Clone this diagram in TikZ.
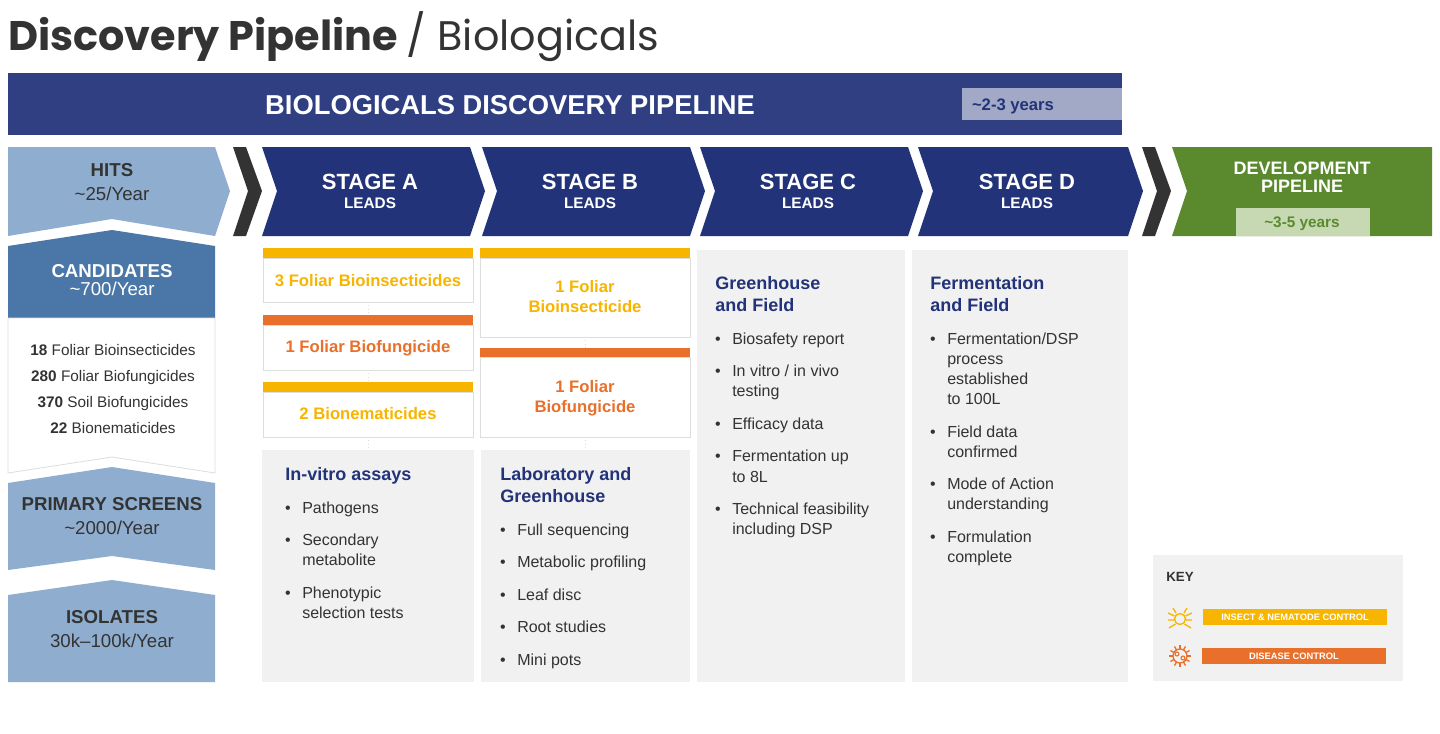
\documentclass[tikz,border=0pt]{standalone}
\usepackage{fontspec}
\setmainfont{Liberation Sans}
\newfontfamily\ttlfont{Poppins}
\begin{document}
\definecolor{navy}{HTML}{22337A}
\definecolor{ban}{HTML}{2F3F82}
\definecolor{lblue}{HTML}{8FAECF}
\definecolor{mblue}{HTML}{4A77A8}
\definecolor{dgray}{HTML}{333333}
\definecolor{grn}{HTML}{5B8A2E}
\definecolor{lgrn}{HTML}{C7D9B3}
\definecolor{yel}{HTML}{F7B500}
\definecolor{org}{HTML}{E8702A}
\definecolor{pan}{HTML}{F1F1F1}
\definecolor{txt}{HTML}{333333}
\definecolor{bdr}{HTML}{DDDDDD}
\begin{tikzpicture}[x=0.75pt,y=-0.75pt,
  fs/.style={font=\fontsize{#1}{#1}\selectfont},
  wt/.style={text=white,font=\fontsize{#1}{#1}\selectfont\bfseries,align=center},
  bt/.style={anchor=base west,text=txt,font=\fontsize{12}{12}\selectfont},
  hd/.style={anchor=base west,inner sep=0,text=navy,font=\fontsize{13.5}{13.5}\selectfont\bfseries},
  dot/.style={draw=bdr,dotted,line width=0.6pt},
  box/.style={draw=bdr,fill=white,line width=0.6pt},
  lt/.style={font=\fontsize{12.5}{15}\selectfont\bfseries,align=center}]
\useasboundingbox (0,0) rectangle (1440,733);
\fill[white] (0,0) rectangle (1440,733);
% title
\node[anchor=base west,inner sep=0,text=dgray] (title) at (8,50) {\ttlfont\fontsize{31}{31}\selectfont\bfseries Discovery Pipeline \mdseries / Biologicals};
% banner
\fill[ban] (8,73) rectangle (1122,135);
\node[wt=20.5,anchor=base] (ban) at (510,114) {BIOLOGICALS DISCOVERY PIPELINE};
\fill[fill=ban!45!white] (962,88) rectangle (1122,120);
\node[anchor=base,text=navy,font=\fontsize{12.5}{12.5}\selectfont\bfseries] (yrs) at (1013,110) {\textasciitilde2-3 years};
% left column
\fill[lblue] (8,147) -- (215,147) -- (230,191) -- (215,236) -- (112,219) -- (8,236) -- cycle;
\node[text=txt,font=\fontsize{14}{17.5}\selectfont,align=center] (hits) at (112,182) {\textbf{HITS}\\\textasciitilde25/Year};
\fill[mblue] (8,246) -- (112,230) -- (215,246) -- (215,318) -- (8,318) -- cycle;
\node[wt=14] (cand) at (112,280) {\fontsize{14}{17.5}\selectfont CANDIDATES\\\mdseries\textasciitilde700/Year};
\draw[bdr,fill=white,line width=0.6pt] (8,318) -- (215,318) -- (215,473) -- (112,457) -- (8,473) -- cycle;
\node[anchor=base,text=txt,fs=11.5] (c1) at (113,355) {\textbf{18} Foliar Bioinsecticides};
\node[anchor=base,text=txt,fs=11.5] (c2) at (113,381) {\textbf{280} Foliar Biofungicides};
\node[anchor=base,text=txt,fs=11.5] (c3) at (113,407) {\textbf{370} Soil Biofungicides};
\node[anchor=base,text=txt,fs=11.5] (c4) at (113,433) {\textbf{22} Bionematicides};
\fill[lblue] (8,483) -- (112,467) -- (215,483) -- (215,570) -- (112,556) -- (8,570) -- cycle;
\node[text=txt,font=\fontsize{14}{17.5}\selectfont,align=center] (ps) at (112,516) {\textbf{PRIMARY SCREENS}\\\textasciitilde2000/Year};
\fill[lblue] (8,595) -- (112,580) -- (215,595) -- (215,682) -- (8,682) -- cycle;
\node[text=txt,font=\fontsize{14}{17.5}\selectfont,align=center] (iso) at (112,629) {\textbf{ISOLATES}\\30k--100k/Year};
% chevrons
\fill[dgray] (233,147) -- (246,147) -- (262,191) -- (246,236) -- (233,236) -- (248,191) -- cycle;
\fill[dgray] (1142,147) -- (1155,147) -- (1171,191) -- (1155,236) -- (1142,236) -- (1157,191) -- cycle;
\foreach \a/\b/\n in {262/470/A,482/690/B,700/908/C,918/1128/D}{
  \fill[navy] (\a,147) -- (\b,147) -- (\b+15,191) -- (\b,236) -- (\a,236) -- (\a+15,191) -- cycle;
  \node[wt=16.5,anchor=base] (s\n) at ({(\a+\b)/2+4},189) {STAGE \n};
  \node[wt=11.5,anchor=base] (l\n) at ({(\a+\b)/2+4},208) {LEADS};
}
\fill[grn] (1172,147) -- (1432,147) -- (1432,236) -- (1172,236) -- (1187,191) -- cycle;
\node[wt=13.5] (dev) at (1302,177) {\fontsize{13.5}{17}\selectfont DEVELOPMENT\\PIPELINE};
\fill[lgrn] (1236,208) rectangle (1370,236);
\node[anchor=base,text=grn,font=\fontsize{11.5}{11.5}\selectfont\bfseries] (dyr) at (1302,227) {\textasciitilde3-5 years};
% stage A cards
\fill[yel] (263,248) rectangle (473,258); \draw[box] (263,258) rectangle (473,302);
\node[lt,text=yel] (a1) at (368,281) {3 Foliar Bioinsecticides};
\fill[org] (263,315) rectangle (473,325); \draw[box] (263,325) rectangle (473,370);
\node[lt,text=org] (a2) at (368,348) {1 Foliar Biofungicide};
\fill[yel] (263,382) rectangle (473,392); \draw[box] (263,392) rectangle (473,437);
\node[lt,text=yel] (a3) at (368,414) {2 Bionematicides};
\coordinate (a1b) at (368,302); \coordinate (a2t) at (368,315);
\coordinate (a2b) at (368,370); \coordinate (a3t) at (368,382);
\coordinate (a3b) at (368,437); \coordinate (apt) at (368,450);
\draw[dot] (a1b) -- (a2t); \draw[dot] (a2b) -- (a3t); \draw[dot] (a3b) -- (apt);
\fill[pan] (262,450) rectangle (474,682);
\node[hd] (ah) at (285,480) {In-vitro assays};
% stage B cards
\fill[yel] (480,248) rectangle (690,258); \draw[box] (480,258) rectangle (690,337);
\node[lt,text=yel] (b1) at (585,297) {1 Foliar\\Bioinsecticide};
\fill[org] (480,348) rectangle (690,357); \draw[box] (480,357) rectangle (690,437);
\node[lt,text=org] (b2) at (585,398) {1 Foliar\\Biofungicide};
\coordinate (b1b) at (585,337); \coordinate (b2t) at (585,348);
\coordinate (b2b) at (585,437); \coordinate (bpt) at (585,450);
\draw[dot] (b1b) -- (b2t); \draw[dot] (b2b) -- (bpt);
\fill[pan] (481,450) rectangle (690,682);
\node[hd] (bh1) at (500,480) {Laboratory and};
\node[hd] (bh2) at (500,502) {Greenhouse};
% stage C, D panels
\fill[pan] (697,250) rectangle (905,682);
\node[hd] (ch1) at (715,289) {Greenhouse};
\node[hd] (ch2) at (715,311) {and Field};
\fill[pan] (912,250) rectangle (1128,682);
\node[hd] (dh1) at (930,289) {Fermentation};
\node[hd] (dh2) at (930,311) {and Field};
% bullets
\foreach \x/\y/\t in {
 302/513/Pathogens, 302/545/Secondary, 302/565/metabolite, 302/598/Phenotypic, 302/618/selection tests,
 517/535/Full sequencing, 517/567/Metabolic profiling, 517/600/Leaf disc, 517/632/Root studies, 517/665/Mini pots,
 732/344/Biosafety report, 732/376/{In vitro / in vivo}, 732/396/testing, 732/429/Efficacy data, 732/461/Fermentation up, 732/482/to 8L, 732/514/Technical feasibility, 732/534/including DSP,
 947/344/{Fermentation/DSP}, 947/364/process, 947/384/established, 947/404/to 100L, 947/437/Field data, 947/457/confirmed, 947/489/Mode of Action, 947/509/understanding, 947/542/Formulation, 947/562/complete}
 { \node[bt,inner sep=0] at (\x,\y) {\t}; }
\foreach \x/\y in {302/513,302/545,302/598,517/535,517/567,517/600,517/632,517/665,732/344,732/376,732/429,732/461,732/514,947/344,947/437,947/489,947/542}
 { \node[anchor=base,inner sep=0,text=txt,fs=12] at (\x-14,\y) {\textbullet}; }
% key
\fill[pan] (1153,555) rectangle (1403,681);
\node[anchor=base west,inner sep=0,text=txt,font=\fontsize{10}{10}\selectfont\bfseries] (key) at (1166,581) {KEY};
\fill[yel] (1203,609) rectangle (1387,625);
\node[wt=7] (k1) at (1295,617) {INSECT \& NEMATODE CONTROL};
\fill[org] (1202,648) rectangle (1386,664);
\node[wt=7] (k2) at (1294,656) {DISEASE CONTROL};
% bug icon
\draw[yel,line width=1pt] (1180,619) circle (5.5);
\draw[yel,line width=1pt] (1176,613) -- (1173,608) (1184,613) -- (1187,608)
  (1174.5,616) -- (1168,613) (1174.5,620) -- (1168,620) (1175.5,624) -- (1169,628)
  (1185.5,616) -- (1192,613) (1185.5,620) -- (1192,620) (1184.5,624) -- (1191,628);
% virus icon
\draw[org,line width=1pt] (1180,656) circle (7);
\foreach \ang in {0,30,...,330}{ \draw[org,line width=1pt] (1180,656) ++(\ang:7) -- ++(\ang:4); }
\draw[org,line width=0.8pt] (1177,654) circle (2) (1183,658) circle (2);
\end{tikzpicture}
\end{document}
